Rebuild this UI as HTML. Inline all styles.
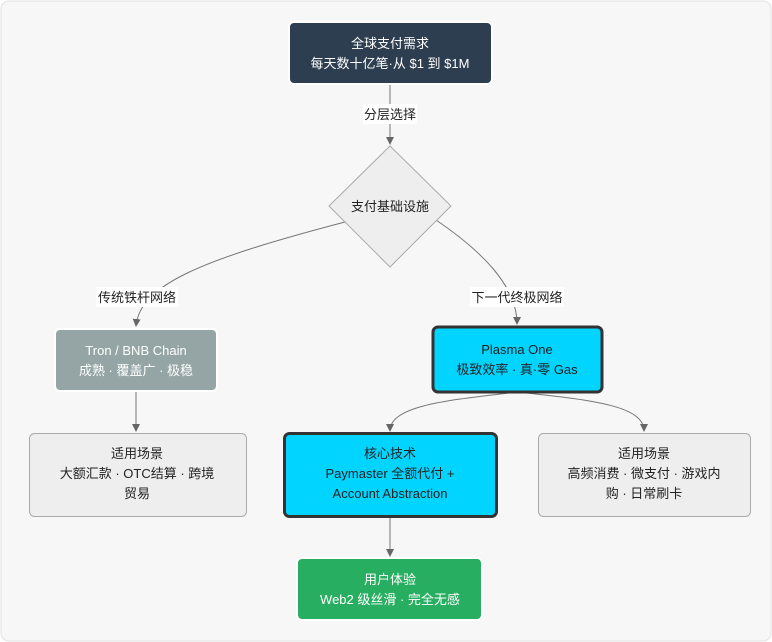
<!DOCTYPE html>
<html><head><meta charset="utf-8"><style>
html,body{margin:0;padding:0;background:#fff;}
svg{display:block;font-family:"Liberation Sans","Noto Sans CJK SC",sans-serif;}
</style></head><body>
<svg width="772" height="642" viewBox="0 0 772 642" xmlns="http://www.w3.org/2000/svg">
<defs><marker id="a" markerWidth="8" markerHeight="8" refX="7" refY="4" orient="auto" markerUnits="userSpaceOnUse"><path d="M0,0 L8,4 L0,8 z" fill="#666"/></marker></defs>
<rect x="1" y="1" width="770" height="640" rx="8" fill="#f7f7f7" stroke="#e2e2e2"/>
<g fill="none" stroke="#777" stroke-width="1">
<path d="M390,84 L390,144" marker-end="url(#a)"/>
<path d="M345,222 C200,260 140,285 136,326" marker-end="url(#a)"/>
<path d="M436,220 C480,250 517,285 517,324" marker-end="url(#a)"/>
<path d="M136,391 L136,431" marker-end="url(#a)"/>
<path d="M517,392 C450,400 390,405 390,431" marker-end="url(#a)"/>
<path d="M517,392 C590,400 644,405 644,431" marker-end="url(#a)"/>
<path d="M390,516 L390,556" marker-end="url(#a)"/>
</g>
<rect x="363" y="104" width="54" height="20" fill="#fff"/>
<text x="390" y="119" font-size="13" text-anchor="middle" fill="#222">分层选择</text>
<rect x="96" y="287" width="82" height="20" fill="#fff"/>
<text x="137" y="302" font-size="13" text-anchor="middle" fill="#222">传统铁杆网络</text>
<rect x="470" y="287" width="94" height="20" fill="#fff"/>
<text x="517" y="302" font-size="13" text-anchor="middle" fill="#222">下一代终极网络</text>

<rect x="289" y="22" width="203" height="62" rx="5" fill="#2c3e50" stroke="#fff" stroke-width="2"/>
<text x="390" y="48" font-size="13" text-anchor="middle" fill="#fff">全球支付需求</text>
<text x="390" y="68" font-size="13" text-anchor="middle" fill="#fff">每天数十亿笔·从 $1 到 $1M</text>

<path d="M390,146 L451,206 L390,267 L329,206 Z" fill="#eee" stroke="#aaa"/>
<text x="390" y="211" font-size="13" text-anchor="middle" fill="#222">支付基础设施</text>

<rect x="55" y="329" width="162" height="62" rx="5" fill="#95a5a6" stroke="#fff" stroke-width="2"/>
<text x="136" y="355" font-size="13" text-anchor="middle" fill="#fff">Tron / BNB Chain</text>
<text x="136" y="375" font-size="13" text-anchor="middle" fill="#fff">成熟 · 覆盖广 · 极稳</text>

<rect x="29.5" y="433.5" width="217" height="83" rx="5" fill="#eee" stroke="#aaa"/>
<text x="137" y="458" font-size="13" text-anchor="middle" fill="#222">适用场景</text>
<text x="137" y="478" font-size="13" text-anchor="middle" fill="#222">大额汇款 · OTC结算 · 跨境</text>
<text x="137" y="498" font-size="13" text-anchor="middle" fill="#222">贸易</text>

<rect x="433" y="327" width="169" height="65" rx="5" fill="#00d4ff" stroke="#333" stroke-width="3"/>
<text x="517" y="354" font-size="13" text-anchor="middle" fill="#222">Plasma One</text>
<text x="517" y="374" font-size="13" text-anchor="middle" fill="#222">极致效率 · 真·零 Gas</text>

<rect x="284.5" y="433.5" width="212" height="83" rx="5" fill="#00d4ff" stroke="#333" stroke-width="3"/>
<text x="390" y="458" font-size="13" text-anchor="middle" fill="#222">核心技术</text>
<text x="390" y="478" font-size="13" text-anchor="middle" fill="#222">Paymaster 全额代付 +</text>
<text x="390" y="498" font-size="13" text-anchor="middle" fill="#222">Account Abstraction</text>

<rect x="538.5" y="433.5" width="212" height="83" rx="5" fill="#eee" stroke="#aaa"/>
<text x="644" y="458" font-size="13" text-anchor="middle" fill="#222">适用场景</text>
<text x="644" y="478" font-size="13" text-anchor="middle" fill="#222">高频消费 · 微支付 · 游戏内</text>
<text x="644" y="498" font-size="13" text-anchor="middle" fill="#222">购 · 日常刷卡</text>

<rect x="297" y="558" width="185" height="62" rx="5" fill="#27ae60" stroke="#fff" stroke-width="2"/>
<text x="390" y="584" font-size="13" text-anchor="middle" fill="#fff">用户体验</text>
<text x="390" y="604" font-size="13" text-anchor="middle" fill="#fff">Web2 级丝滑 · 完全无感</text>
</svg>
</body></html>
